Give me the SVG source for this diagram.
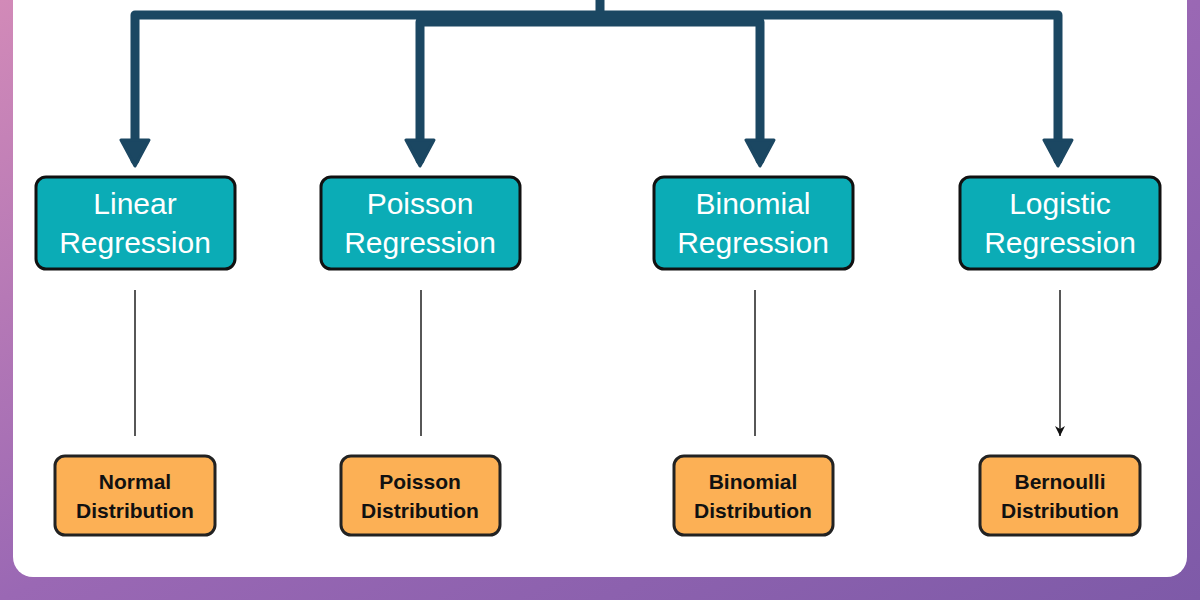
<svg xmlns="http://www.w3.org/2000/svg" width="1200" height="600" viewBox="0 0 1200 600">
<defs>
<linearGradient id="bg" x1="0" y1="0" x2="1" y2="1"><stop offset="0" stop-color="#d28ab8"/><stop offset="0.5" stop-color="#9a68b4"/><stop offset="1" stop-color="#7e5aa8"/></linearGradient>
<marker id="big" viewBox="0 0 10 10" refX="5" refY="9" markerWidth="3.6" markerHeight="3.6" orient="auto" markerUnits="strokeWidth"><path d="M0,0 L10,0 L5,9 Z" fill="#1b4762" stroke="#1b4762" stroke-linejoin="round" transform="rotate(-90 5 5)"/></marker>
<marker id="thin" viewBox="0 0 10 10" refX="10" refY="5" markerWidth="10" markerHeight="10" orient="auto" markerUnits="userSpaceOnUse"><path d="M0,0 L10,5 L0,10 L3,5 Z" fill="#111"/></marker>
</defs>
<style>
.t rect{fill:#0bacb6;stroke:#111;stroke-width:3}
.t text{fill:#fff;font-family:"Liberation Sans",Arial,sans-serif;font-size:30px;text-anchor:middle}
.o rect{fill:#fcb055;stroke:#222;stroke-width:3}
.o text{fill:#111;font-family:"Liberation Sans",Arial,sans-serif;font-size:21px;font-weight:bold;text-anchor:middle}
.thick{fill:none;stroke:#1b4762;stroke-width:9;stroke-linejoin:round;stroke-linecap:round}
.thn{stroke:#111;stroke-width:1.4;fill:none}
</style>
<rect width="1200" height="600" fill="url(#bg)"/>
<rect x="13" y="-30" width="1174" height="607" rx="20" fill="#fff"/>
<g id="connectors">
<path class="thick" d="M600,0 V14 M135,15 H600 H1058 V20 M1058,19 V160 M135,15 V160 M420,22 H760 M420,22 V160 M760,22 V160"/>
<path d="M121,140 L149,140 L135,166 Z M406,140 L434,140 L420,166 Z M746,140 L774,140 L760,166 Z M1044,140 L1072,140 L1058,166 Z" fill="#1b4762" stroke="#1b4762" stroke-width="3" stroke-linejoin="round"/>
<path class="thn" marker-end="url(#thin)" d="M135,290 V436 M421,290 V436 M755,290 V436 M1060,290 V436"/>
</g>
<g id="linear" class="t"><rect x="36" y="177" width="199" height="92" rx="10"/><text x="135" y="214">Linear</text><text x="135" y="253">Regression</text></g>
<g id="poisson" class="t"><rect x="321" y="177" width="199" height="92" rx="10"/><text x="420" y="214">Poisson</text><text x="420" y="253">Regression</text></g>
<g id="binomial" class="t"><rect x="654" y="177" width="199" height="92" rx="10"/><text x="753" y="214">Binomial</text><text x="753" y="253">Regression</text></g>
<g id="logistic" class="t"><rect x="960" y="177" width="200" height="92" rx="10"/><text x="1060" y="214">Logistic</text><text x="1060" y="253">Regression</text></g>
<g id="normal" class="o"><rect x="55" y="456" width="160" height="79" rx="10"/><text x="135" y="489">Normal</text><text x="135" y="518">Distribution</text></g>
<g id="poissond" class="o"><rect x="341" y="456" width="159" height="79" rx="10"/><text x="420" y="489">Poisson</text><text x="420" y="518">Distribution</text></g>
<g id="binomiald" class="o"><rect x="674" y="456" width="159" height="79" rx="10"/><text x="753" y="489">Binomial</text><text x="753" y="518">Distribution</text></g>
<g id="bernoulli" class="o"><rect x="980" y="456" width="160" height="79" rx="10"/><text x="1060" y="489">Bernoulli</text><text x="1060" y="518">Distribution</text></g>
</svg>
